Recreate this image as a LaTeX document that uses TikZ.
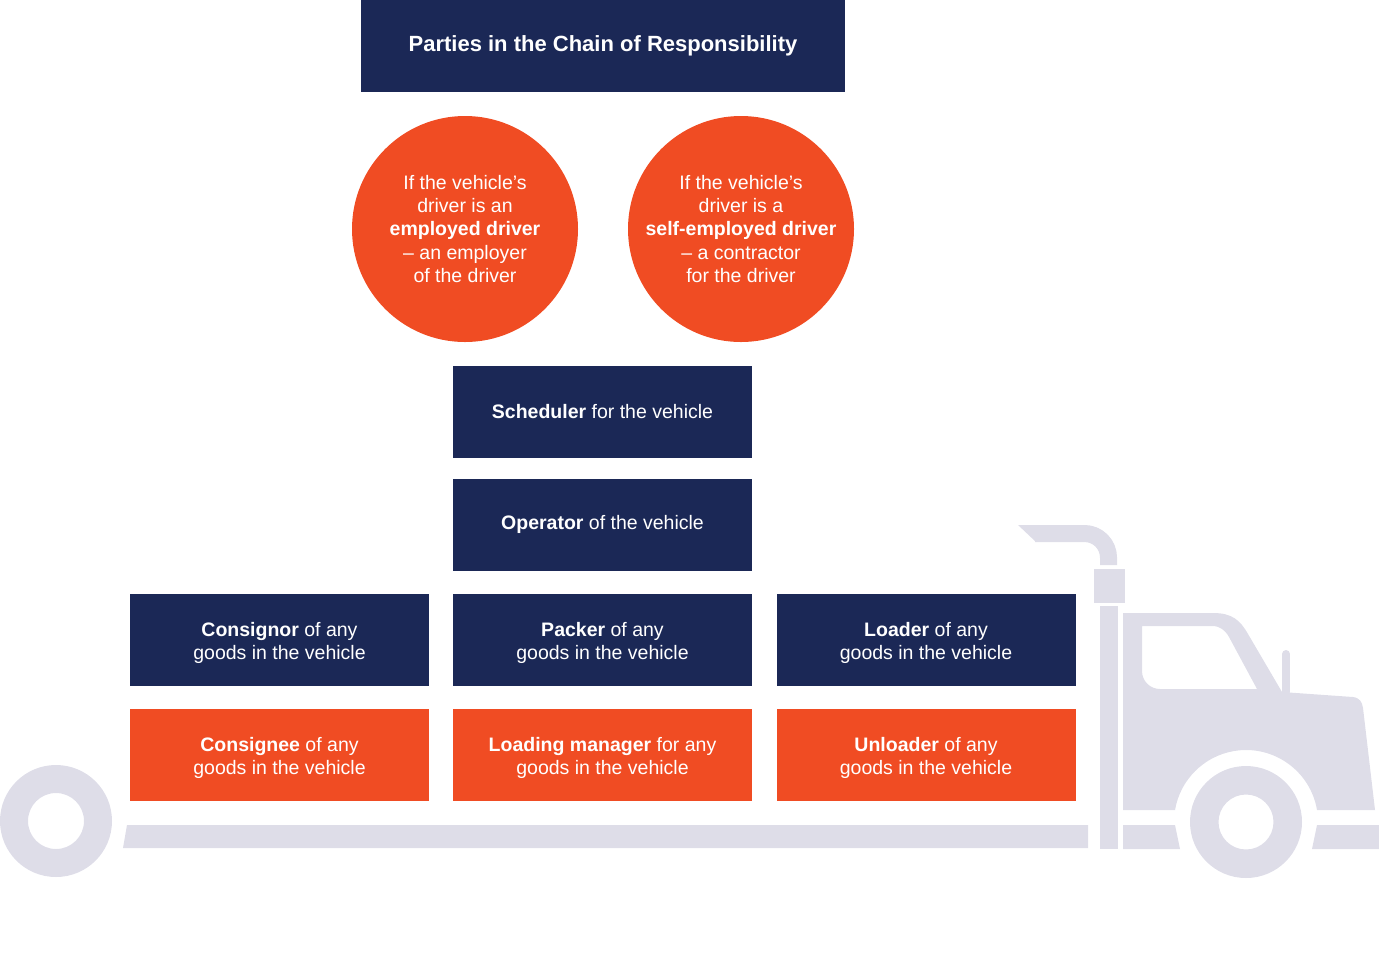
\documentclass[tikz,border=0pt]{standalone}
\usepackage{fontspec}
\setmainfont{Liberation Sans}
\definecolor{corNavy}{RGB}{27,40,86}
\definecolor{corOrange}{RGB}{240,76,35}
\definecolor{truckGrey}{RGB}{222,221,232}
\begin{document}
\begin{tikzpicture}[x=0.5bp,y=-0.5bp,line join=bevel,
    partybox/.style={rectangle,inner sep=0pt,minimum width=149.5bp,minimum height=46bp,
      text=white,align=center,font=\fontsize{9.75bp}{11.6bp}\selectfont},
    navybox/.style={partybox,fill=corNavy},
    orangebox/.style={partybox,fill=corOrange},
    twolines/.style={text height=22.2bp,text depth=2bp},
    drivercircle/.style={circle,inner sep=0pt,minimum size=113bp,fill=corOrange,
      text=white,align=center,font=\fontsize{9.75bp}{11.65bp}\selectfont},
  ]
  \useasboundingbox (0,0) rectangle (1379,953);
  %% truck
  \begin{scope}[fill=truckGrey]
    \fill[even odd rule] (56,821) circle[radius=28bp] (56,821) circle[radius=14bp];
    \fill[even odd rule] (1246,822) circle[radius=28bp] (1246,822) circle[radius=13.75bp];
    \fill (127,825) -- (1088,825) -- (1088,848) -- (123,848) -- cycle;
    \fill (1123,825) -- (1175,825) -- (1180,849) -- (1123,849) -- cycle;
    \fill (1317,825) -- (1379,825) -- (1379,849) -- (1312,849) -- cycle;
    % exhaust
    \fill (1018,525) -- (1036,525) -- (1036,542) -- cycle;
    \draw[truckGrey,line width=8.5bp,rounded corners=12bp] (1035,533.5) -- (1108.5,533.5) -- (1108.5,565);
    \fill (1094,569) rectangle (1125,603);
    \fill (1100,606) rectangle (1118,849);
    % cab
    \fill[even odd rule] (1123,613) -- (1213,613) .. controls (1232,613) and (1240,620) .. (1248,634)
      -- (1282,692) -- (1353,697) .. controls (1360,698) and (1362,702) .. (1363,708)
      -- (1375,810) -- (1317,810) arc[start angle=9.6,end angle=170.4,radius=36bp]
      -- (1123,810) -- cycle
      (1142,626) -- (1212,626) .. controls (1220,626) and (1225,630) .. (1229,637)
      -- (1257,689) -- (1160,689) .. controls (1150,689) and (1142,681) .. (1142,671) -- cycle;
    \draw[truckGrey,line width=4bp,line cap=round] (1286,654) -- (1286,692);
  \end{scope}
  %% parties
  \node (title) at (603,46) [navybox,minimum width=242bp,font=\bfseries\fontsize{11bp}{13bp}\selectfont] {Parties in the Chain of Responsibility};
  \node (employer) at (465,229) [drivercircle] {If the vehicle’s\\driver is an\\\textbf{employed driver}\\– an employer\\of the driver};
  \node (contractor) at (741,229) [drivercircle] {If the vehicle’s\\driver is a\\\textbf{self-employed driver}\\– a contractor\\for the driver};
  \node (scheduler) at (602.5,412) [navybox] {\textbf{Scheduler} for the vehicle};
  \node (operator) at (602.5,524.5) [navybox] {\textbf{Operator} of the vehicle};
  %
  \node (consignor) at (279.5,639.5) [navybox,twolines] {\textbf{Consignor} of any\\goods in the vehicle};
  \node (packer) at (602.5,639.5) [navybox,twolines] {\textbf{Packer} of any\\goods in the vehicle};
  \node (loader) at (926,639.5) [navybox,twolines] {\textbf{Loader} of any\\goods in the vehicle};
  \node (consignee) at (279.5,754.5) [orangebox,twolines] {\textbf{Consignee} of any\\goods in the vehicle};
  \node (loadmgr) at (602.5,754.5) [orangebox,twolines] {\textbf{Loading manager} for any\\goods in the vehicle};
  \node (unloader) at (926,754.5) [orangebox,twolines] {\textbf{Unloader} of any\\goods in the vehicle};
  %
\end{tikzpicture}
\end{document}
